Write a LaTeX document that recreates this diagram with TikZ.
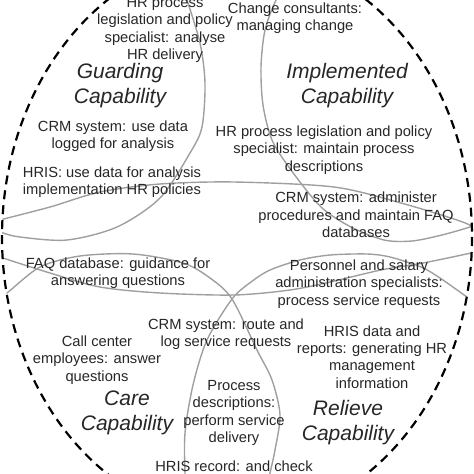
\documentclass[tikz,border=0pt]{standalone}
\usepackage{fontspec}
\setmainfont{Liberation Sans}
\begin{document}
\begin{tikzpicture}[x=1pt,y=-1pt]
\tikzstyle{every node}+=[inner sep=0pt, text=black!85]
\tikzstyle{role}=[align=center, font=\fontsize{14.7}{17.3}\selectfont]
\tikzstyle{capability}=[align=center, font=\fontsize{21}{25}\selectfont\itshape]
\tikzstyle{border}=[line width=2.2pt, dash pattern=on 9pt off 6pt]
\tikzstyle{petal}=[gray!75, line width=1.4pt]
\useasboundingbox (0,0) rectangle (474,474);
\clip (0,0) rectangle (474,474);
% petals and band, kept inside the outer border
\begin{scope}
\clip (237,237) ellipse [x radius=235, y radius=284];
\draw [petal] plot [smooth] coordinates {(183,-12) (187,0) (200,43) (205,83) (202,127) (190,153) (160,198) (117,227) (67,240) (20,237) (0,232) (-12,227)};
\draw [petal] plot [smooth] coordinates {(285,-12) (276,0) (265,30) (261,67) (263,105) (272,140) (291,170) (321,207) (351,227) (384,240) (412,241) (442,235) (470,227) (486,221)};
\draw [petal] plot [smooth] coordinates {(-8,303) (7,293) (40,267) (80,256) (133,254) (183,263) (210,278) (232,299) (257,350) (272,380) (280,415) (275,450) (270,473) (266,490)};
\draw [petal] plot [smooth] coordinates {(482,307) (467,297) (440,278) (421,267) (390,257) (367,254) (330,255) (300,260) (270,270) (251,282) (232,299) (207,340) (193,385) (185,433) (185,474) (186,490)};
\draw [petal] plot [smooth] coordinates {(-12,224) (0,220) (50,207) (100,192) (160,184) (234,182) (334,187) (401,203) (457,220) (474,227) (486,232)};
\draw [petal] plot [smooth] coordinates {(-12,252) (0,257) (50,273) (100,287) (160,293) (234,295) (290,290) (330,282) (381,270) (423,263) (471,253) (486,249)};
\end{scope}
\draw [border] (237,237) ellipse [x radius=235, y radius=284];
% capabilities
\node[capability] (guarding) at (120,86) {Guarding\\Capability};
\node[capability] (implemented) at (347,86) {Implemented\\Capability};
\node[capability] (care) at (127,413) {Care\\Capability};
\node[capability] (relieve) at (348,423) {Relieve\\Capability};
% roles and systems
\node[role] (hrguard) at (165,30) {HR process\\legislation and policy\\specialist: analyse\\HR delivery};
\node[role] (change) at (295,18) {Change consultants:\\managing change};
\node[role] (crmguard) at (113,136) {CRM system: use data\\logged for analysis};
\node[role] (hrisguard) at (112,182) {HRIS: use data for analysis\\implementation HR policies};
\node[role] (hrimpl) at (324,150) {HR process legislation and policy\\specialist: maintain process\\descriptions};
\node[role] (crmimpl) at (356,215) {CRM system: administer\\procedures and maintain FAQ\\databases};
\node[role] (faq) at (118,273) {FAQ database: guidance for\\answering questions};
\node[role] (personnel) at (359,284) {Personnel and salary\\administration specialists:\\process service requests};
\node[role] (crmcare) at (226,334) {CRM system: route and\\log service requests};
\node[role] (callcenter) at (97,360) {Call center\\employees: answer\\questions};
\node[role] (hrisrelieve) at (372,357) {HRIS data and\\reports: generating HR\\management\\information};
\node[role] (procdesc) at (234,413) {Process\\descriptions:\\perform service\\delivery};
\node[role] (hrisrecord) at (234,466) {HRIS record: and check};
\end{tikzpicture}
\end{document}
